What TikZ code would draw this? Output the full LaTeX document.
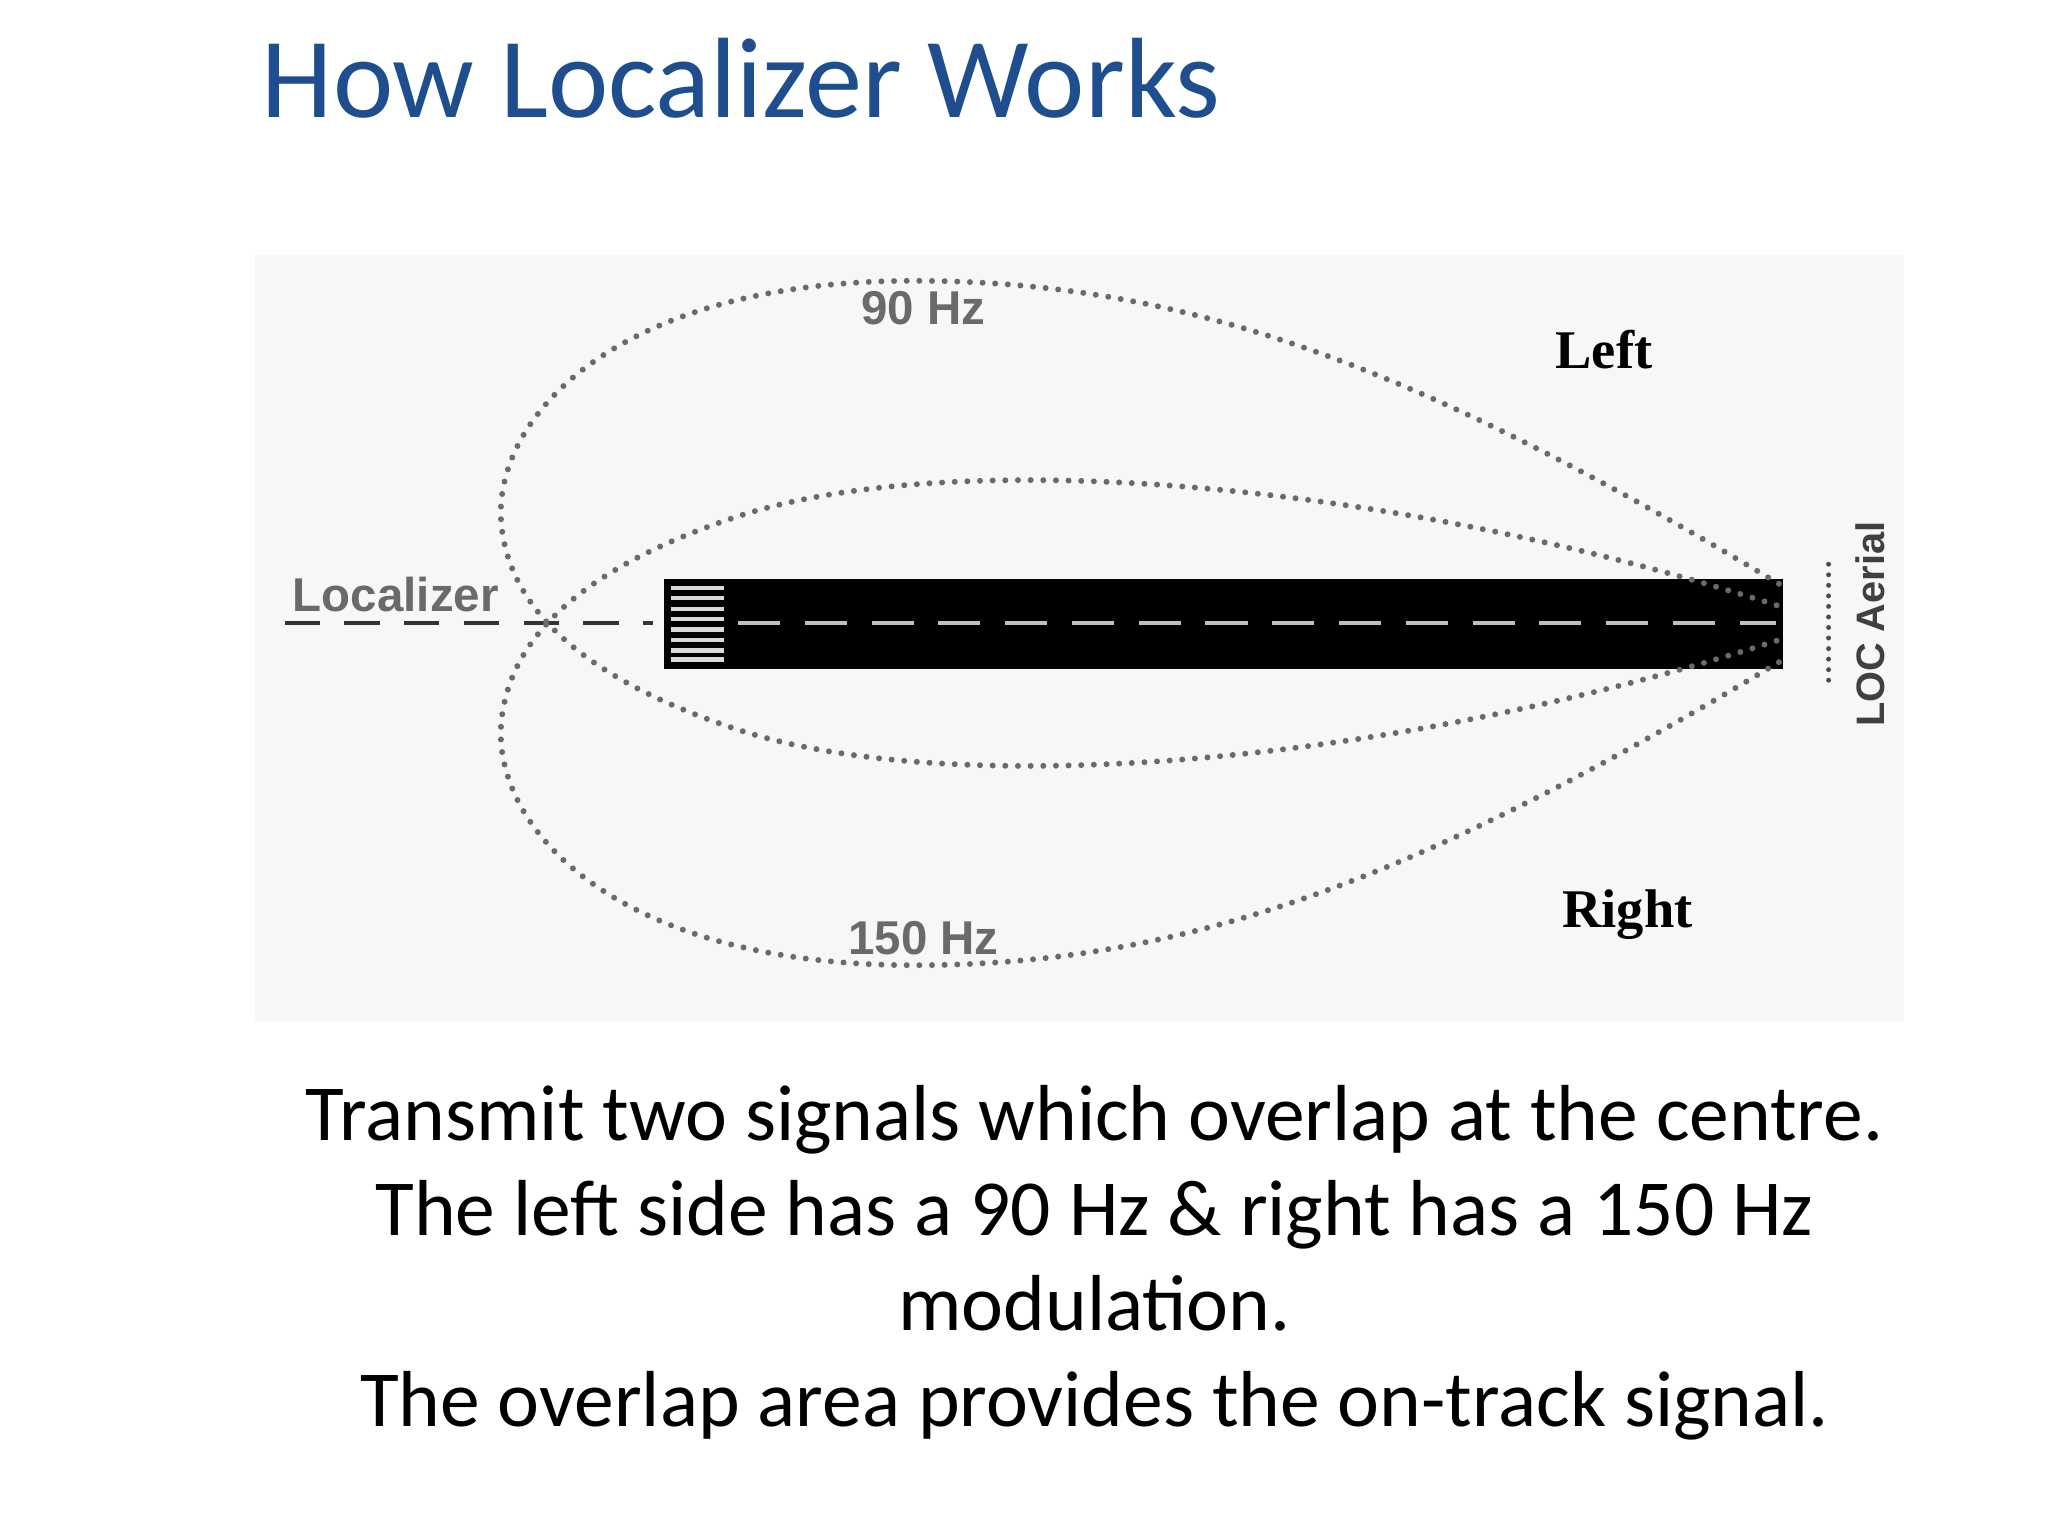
\documentclass[tikz,border=0pt]{standalone}
\usepackage{fontspec}
\setmainfont{Carlito}
\newfontfamily\arialf{Liberation Sans}
\newfontfamily\timesf{Liberation Serif}
\definecolor{titleblue}{HTML}{1F4E8F}
\definecolor{lobegray}{HTML}{6A6A6A}
\begin{document}
\begin{tikzpicture}[x=0.013061cm,y=-0.013061cm,
  lobe/.style={draw=lobegray,line width=1.7pt,dash pattern=on 0pt off 3.6pt,line cap=round},
  lbl/.style={font=\arialf\bfseries\fontsize{13.5}{16}\selectfont,text=lobegray},
  side/.style={font=\timesf\bfseries\fontsize{15.5}{18}\selectfont},
  body/.style={font=\fontsize{22.6}{27}\selectfont,anchor=base}]
\useasboundingbox (0,0) rectangle (1568,1176);
\fill[white] (0,0) rectangle (1568,1176);
\node[anchor=base west,font=\fontsize{32.5}{38}\selectfont,text=titleblue,inner sep=0] (title) at (200,90) {How Localizer Works};
\fill[black!3] (195,195) rectangle (1458,782);
% runway
\fill[black] (508,443) rectangle (1365,512);
\foreach \yy in {450,458,466,474,482,490,498,505}
  \draw[white!85!black,line width=1.2pt] (514,\yy) -- (554,\yy);
\draw[white!75!black,line width=1.4pt,dash pattern=on 12pt off 7pt] (565,477) -- (1360,477);
\draw[black!80,line width=1.2pt,dash pattern=on 10pt off 7pt] (218,477) -- (500,477);
\draw[black!70,line width=1.4pt,dash pattern=on 0pt off 3pt,line cap=round] (1400,432) -- (1400,522);
\node[lbl,anchor=base] (loc) at (303,468) {Localizer};
% lobes
\draw[lobe] (1362,447) .. controls (1100,290) and (920,215) .. (700,215)
  .. controls (460,215) and (370,330) .. (385,410)
  .. controls (395,470) and (450,520) .. (560,557)
  .. controls (720,612) and (1050,590) .. (1362,490);
\draw[lobe] (1362,507) .. controls (1100,664) and (920,739) .. (700,739)
  .. controls (460,739) and (370,624) .. (385,544)
  .. controls (395,484) and (450,434) .. (560,397)
  .. controls (720,342) and (1050,364) .. (1362,464);
\node[lbl,fill=black!3,inner sep=1pt] (f90) at (707,236) {90 Hz};
\node[lbl,fill=black!3,inner sep=1pt] (f150) at (707,718) {150 Hz};
\node[side] (left) at (1228,268) {Left};
\node[side] (right) at (1246,700) {Right};
\node[lbl,text=black!75,rotate=90,font=\arialf\bfseries\fontsize{11.3}{13}\selectfont] (aer) at (1432,478) {LOC Aerial};
% bottom text
\node[body] (l1) at (838,873) {Transmit two signals which overlap at the centre.};
\node[body] (l2) at (838,946) {The left side has a 90 Hz \& right has a 150 Hz};
\node[body] (l3) at (838,1019) {modulation.};
\node[body] (l4) at (838,1092) {The overlap area provides the on-track signal.};
\end{tikzpicture}
\end{document}
